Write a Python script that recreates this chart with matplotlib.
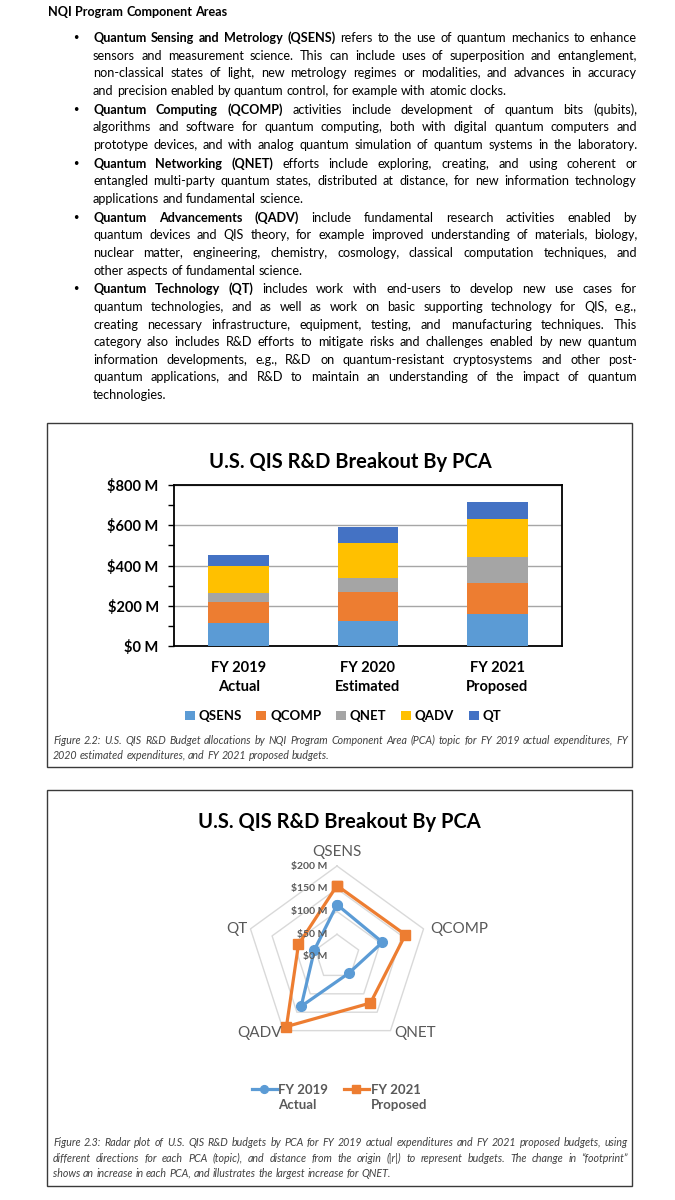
import numpy as np
import matplotlib
matplotlib.use('Agg')
import matplotlib.pyplot as plt
from matplotlib import font_manager
from matplotlib.patches import Rectangle
from matplotlib.ticker import MultipleLocator
from matplotlib.backends.backend_agg import get_hinting_flag

W, H = 675, 1200

installed = set(f.name for f in font_manager.fontManager.ttflist)
BODY = 'Liberation Sans Narrow' if 'Liberation Sans Narrow' in installed else 'Lato'
CHART = 'Lato'

# ---- data ----
pca = ['QSENS', 'QCOMP', 'QNET', 'QADV', 'QT']
years = ['FY 2019\nActual', 'FY 2020\nEstimated', 'FY 2021\nProposed']
qsens = [115, 124, 157]
qcomp = [105, 146, 158]
qnet = [44, 70, 125]
qadv = [134, 174, 189]
qt = [52, 75, 89]
bar_ticks = [0, 200, 400, 600, 800]
radar_ticks = [0, 50, 100, 150, 200]
colors = ['#5B9BD5', '#ED7D31', '#A5A5A5', '#FFC000', '#4472C4']
radar_series = [('FY 2019', 'Actual', 0, '#5B9BD5', 'o'), ('FY 2021', 'Proposed', 2, '#ED7D31', 's')]

# ---- text of the page ----
header = 'NQI Program Component Areas'
bullets = [
    ('Quantum Sensing and Metrology (QSENS)',
     ['refers to the use of quantum mechanics to enhance',
      'sensors and measurement science. This can include uses of superposition and entanglement,',
      'non-classical states of light, new metrology regimes or modalities, and advances in accuracy',
      'and precision enabled by quantum control, for example with atomic clocks.']),
    ('Quantum Computing (QCOMP)',
     ['activities include development of quantum bits (qubits),',
      'algorithms and software for quantum computing, both with digital quantum computers and',
      'prototype devices, and with analog quantum simulation of quantum systems in the laboratory.']),
    ('Quantum Networking (QNET)',
     ['efforts include exploring, creating, and using coherent or',
      'entangled multi-party quantum states, distributed at distance, for new information technology',
      'applications and fundamental science.']),
    ('Quantum Advancements (QADV)',
     ['include fundamental research activities enabled by',
      'quantum devices and QIS theory, for example improved understanding of materials, biology,',
      'nuclear matter, engineering, chemistry, cosmology, classical computation techniques, and',
      'other aspects of fundamental science.']),
    ('Quantum Technology (QT)',
     ['includes work with end-users to develop new use cases for',
      'quantum technologies, and as well as work on basic supporting technology for QIS, e.g.,',
      'creating necessary infrastructure, equipment, testing, and manufacturing techniques. This',
      'category also includes R&D efforts to mitigate risks and challenges enabled by new quantum',
      'information developments, e.g., R&D on quantum-resistant cryptosystems and other post-',
      'quantum applications, and R&D to maintain an understanding of the impact of quantum',
      'technologies.']),
]
caption1 = ['Figure 2.2: U.S. QIS R&D Budget allocations by NQI Program Component Area (PCA) topic for FY 2019 actual expenditures, FY',
            '2020 estimated expenditures, and FY 2021 proposed budgets.']
caption2 = ['Figure 2.3: Radar plot of U.S. QIS R&D budgets by PCA for FY 2019 actual expenditures and FY 2021 proposed budgets, using',
            'different directions for each PCA (topic), and distance from the origin (|r|) to represent budgets. The change in \u201cfootprint\u201d',
            'shows an increase in each PCA, and illustrates the largest increase for QNET.']

fig = plt.figure(figsize=(W / 100, H / 100), dpi=100)
fig.patch.set_facecolor('white')
renderer = fig.canvas.get_renderer()


def fx(x):
    return x / W


def fy(y):
    return 1 - y / H


def width_of(s, **kw):
    t = fig.text(0, 0, s, **kw)
    w = t.get_window_extent(renderer).width
    t.remove()
    return w


def baseline_shift(t):
    # Agg places each string by its own ink box, which moves short words by a pixel or two;
    # work out that offset so all words of a line sit on the same baseline
    try:
        font = renderer._prepare_font(t.get_fontproperties())
        font.set_text(t.get_text(), 0, flags=get_hinting_flag())
        d = font.get_descent() / 64.0
        hh = font.get_width_height()[1] / 64.0
        return round(d) + np.floor(hh - d) - np.floor(hh)
    except Exception:
        return 0


def draw_line(y, x0, x1, segs, justify, **kw):
    base = round(y)
    arts = []
    for word, bold in segs:
        arts.append(fig.text(0, fy(base), word, va='baseline', ha='left',
                             fontweight='bold' if bold else 'normal', **kw))
    widths = [t.get_window_extent(renderer).width for t in arts]
    space = width_of('a a', **kw) - width_of('aa', **kw)
    gap = space
    if justify and len(arts) > 1:
        gap = (x1 - x0 - sum(widths)) / (len(arts) - 1)
    x = x0
    for t, w in zip(arts, widths):
        t.set_position((fx(x), fy(base - baseline_shift(t))))
        x += w + gap


def fit_size(lines, base, avail, **kw):
    widest = max(width_of(l, fontsize=base, **kw) for l in lines)
    if widest > avail * 0.97:
        return base * avail * 0.97 / widest
    return base


# ---- body text ----
X0, X1 = 93, 637
all_lines = []
for title, rest in bullets:
    all_lines.append(title + ' ' + rest[0])
    all_lines.extend(rest[1:])
body_fs = fit_size(all_lines, 10.5, X1 - X0, family=BODY)

draw_line(16, 48, 48, [(w, True) for w in header.split()], False,
          fontsize=body_fs, family=BODY, color='black')
y = 37
for title, rest in bullets:
    fig.text(fx(72), fy(round(y + 5)), '\u2022', fontsize=body_fs, family='DejaVu Sans', va='baseline')
    for i, line in enumerate(rest):
        segs = []
        if i == 0:
            segs += [(w, True) for w in title.split()]
        segs += [(w, False) for w in line.split()]
        draw_line(y + 5, X0, X1, segs, i < len(rest) - 1 or len(line) > 85,
                  fontsize=body_fs, family=BODY, color='black')
        y += 17.6
    y += 1.25

# ---- frames ----
for (l, t, r, b) in [(47, 423, 632, 767), (47, 790, 632, 1186)]:
    fig.add_artist(Rectangle((fx(l), fy(b)), fx(r - l), (b - t) / H, transform=fig.transFigure,
                             fill=False, edgecolor='#3a3a3a', lw=1.0))

# ---- stacked bar chart ----
fig.text(fx(350), fy(462), 'U.S. QIS R&D Breakout By PCA', fontsize=14.5, fontweight='bold',
         family=CHART, ha='center', va='center', color='black')
axb = fig.add_axes([fx(174), fy(646), fx(388), 161 / H])
xpos = np.arange(len(years))
bottom = np.zeros(len(years))
for name, vals, c in zip(pca, [qsens, qcomp, qnet, qadv, qt], colors):
    axb.bar(xpos, vals, 0.47, bottom=bottom, color=c, label=name, zorder=3)
    bottom += np.array(vals)
axb.set_xlim(-0.5, len(years) - 0.5)
axb.set_ylim(bar_ticks[0], bar_ticks[-1])
axb.set_yticks(bar_ticks)
axb.set_yticklabels(['$%d M' % v for v in bar_ticks])
axb.yaxis.set_minor_locator(MultipleLocator(100))
axb.set_xticks(xpos)
axb.set_xticklabels(years, multialignment='center', linespacing=1.45)
axb.grid(axis='y', color='#A6A6A6', lw=1.0, zorder=0)
for s in axb.spines.values():
    s.set_color('black')
    s.set_linewidth(1.3)
axb.tick_params(axis='x', length=0, pad=10.5, labelsize=10.5)
axb.tick_params(axis='y', which='major', length=4, width=1, pad=7, labelsize=10.5)
axb.tick_params(axis='y', which='minor', length=4, width=1)
for lab in axb.get_xticklabels() + axb.get_yticklabels():
    lab.set_fontweight('bold')
    lab.set_family(CHART)
fig.legend(*axb.get_legend_handles_labels(), loc='center', bbox_to_anchor=(fx(343), fy(716)),
           ncol=5, frameon=False, handlelength=0.75, handleheight=0.75, handletextpad=0.3,
           columnspacing=1.1, prop={'family': CHART, 'size': 9.5, 'weight': 'bold'})

# ---- captions ----
CX0, CX1 = 53, 628
cap_fs = fit_size(caption1[:1] + caption2[:2], 8, CX1 - CX0, family=BODY, style='italic')
for i, line in enumerate(caption1):
    draw_line(744 + i * 15, CX0, CX1, [(w, False) for w in line.split()], i == 0,
              fontsize=cap_fs, family=BODY, style='italic', color='#404040')
for i, line in enumerate(caption2):
    draw_line(1146 + i * 15.5, CX0, CX1, [(w, False) for w in line.split()], i < 2,
              fontsize=cap_fs, family=BODY, style='italic', color='#404040')

# ---- radar chart ----
fig.text(fx(339), fy(822), 'U.S. QIS R&D Breakout By PCA', fontsize=14.5, fontweight='bold',
         family=CHART, ha='center', va='center', color='black')
CXr, CYr, R = 337, 957, 91
axr = fig.add_axes([fx(CXr - R), fy(CYr + R), 2 * R / W, 2 * R / H], projection='polar')
axr.set_theta_zero_location('N')
axr.set_theta_direction(-1)
axr.set_ylim(radar_ticks[0], radar_ticks[-1])
axr.grid(False)
axr.set_xticks([])
axr.set_yticks([])
axr.spines['polar'].set_visible(False)
axr.patch.set_alpha(0)
ang = np.linspace(0, 2 * np.pi, len(pca), endpoint=False)
closed = np.append(ang, ang[0])
for r in radar_ticks[1:]:
    axr.plot(closed, [r] * (len(pca) + 1), color='#D9D9D9', lw=1.0, zorder=1, clip_on=False)
series = [qsens, qcomp, qnet, qadv, qt]
handles = []
for k, (lab, sub, col, c, m) in enumerate(radar_series):
    vals = [s[col] for s in series]
    ln, = axr.plot(closed, vals + vals[:1], color=c, lw=2.3, marker=m, ms=7,
                   zorder=4 - k, clip_on=False)
    handles.append(ln)
for r in radar_ticks:
    axr.annotate('$%d M' % r, xy=(0, r), xytext=(-7, 0), textcoords='offset points',
                 ha='right', va='center', fontsize=7.5, fontweight='bold', color='#595959',
                 family=CHART, zorder=5)
label_pos = [((0, 10), 'center', 'center'), ((5, 0), 'left', 'center'), ((3, -2), 'left', 'center'),
             ((-1, -2), 'right', 'center'), ((-2, 0), 'right', 'center')]
for a, name, (off, ha, va) in zip(ang, pca, label_pos):
    axr.annotate(name, xy=(a, radar_ticks[-1]), xytext=off, textcoords='offset points',
                 ha=ha, va=va, fontsize=11, color='#595959', family=CHART)

leg = fig.legend(handles, [s[0] for s in radar_series], loc='center',
                 bbox_to_anchor=(fx(336), fy(1090)), ncol=2, frameon=False, handlelength=1.9,
                 handletextpad=0.12, columnspacing=1.2, markerscale=0.8,
                 prop={'family': CHART, 'size': 9.5, 'weight': 'bold'})
for t in leg.get_texts():
    t.set_color('#595959')
# second line of each legend entry sits under its label, left aligned
fig.draw_without_rendering()
for t, s in zip(leg.get_texts(), radar_series):
    bb = t.get_window_extent(renderer)
    fig.text(bb.x0 / W, fy(1105), s[1], ha='left', va='center', fontsize=9.5,
             fontweight='bold', color='#595959', family=CHART)

fig.savefig('out.png', dpi=100, facecolor='white')
